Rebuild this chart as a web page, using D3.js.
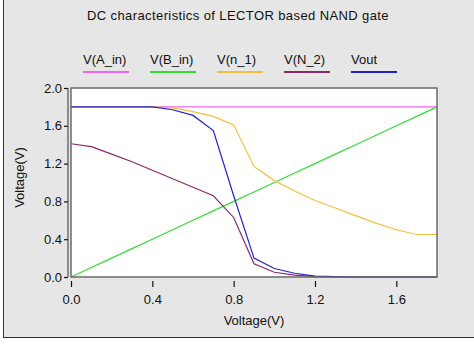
<!DOCTYPE html>
<html>
<head>
<meta charset="utf-8">
<script src="https://cdn.jsdelivr.net/npm/d3@7"></script>
<style>
  body { margin: 0; background: #fff; }
  text { font-family: "Liberation Sans", Arial, sans-serif; fill: #111; }
</style>
</head>
<body>
<div id="container"></div>
<script>
/* DATA */
const sweep = [0, 0.1, 0.2, 0.3, 0.4, 0.5, 0.6, 0.7, 0.8, 0.9, 1.0, 1.1, 1.2, 1.3, 1.4, 1.5, 1.6, 1.7, 1.8];
const vAin = [1.8, 1.8, 1.8, 1.8, 1.8, 1.8, 1.8, 1.8, 1.8, 1.8, 1.8, 1.8, 1.8, 1.8, 1.8, 1.8, 1.8, 1.8, 1.8];
const vBin = [0, 0.1, 0.2, 0.3, 0.4, 0.5, 0.6, 0.7, 0.8, 0.9, 1.0, 1.1, 1.2, 1.3, 1.4, 1.5, 1.6, 1.7, 1.8];
const vN1 = [1.8, 1.8, 1.8, 1.8, 1.8, 1.79, 1.75, 1.7, 1.61, 1.17, 1.02, 0.91, 0.81, 0.73, 0.65, 0.57, 0.5, 0.45, 0.45];
const vN2 = [1.41, 1.38, 1.3, 1.22, 1.13, 1.04, 0.95, 0.86, 0.63, 0.14, 0.05, 0.02, 0.005, 0, 0, 0, 0, 0, 0];
const vOut = [1.8, 1.8, 1.8, 1.8, 1.8, 1.77, 1.71, 1.55, 0.86, 0.2, 0.09, 0.04, 0.01, 0.004, 0, 0, 0, 0, 0];
const seriesNames = ["V(A_in)", "V(B_in)", "V(n_1)", "V(N_2)", "Vout"];
const xTicks = [0, 0.4, 0.8, 1.2, 1.6];
const yTicks = [0, 0.4, 0.8, 1.2, 1.6, 2.0];

const colors = ["#ee66ee", "#33dd33", "#f2c040", "#8a2a6e", "#2222cc"];
const series = [vAin, vBin, vN1, vN2, vOut];

const width = 474, height = 362;
const plot = { left: 71, right: 437, top: 88, bottom: 277 };

const svg = d3.select("#container").append("svg")
  .attr("width", width)
  .attr("height", height);

// gray panel
svg.append("rect")
  .attr("x", 3.5).attr("y", -2)
  .attr("width", width).attr("height", 339.5)
  .attr("fill", "#e6e6e6")
  .attr("stroke", "#333")
  .attr("stroke-width", 1);

// title
svg.append("text")
  .attr("x", 238).attr("y", 20)
  .attr("text-anchor", "middle")
  .attr("font-size", 13)
  .attr("letter-spacing", 0.4)
  .text("DC characteristics of LECTOR based NAND gate");

// legend
const legend = svg.append("g").attr("transform", "translate(83,0)");
seriesNames.forEach((name, i) => {
  const g = legend.append("g").attr("transform", `translate(${i * 67},0)`);
  g.append("text").attr("x", 0).attr("y", 64).attr("font-size", 13).text(name);
  g.append("line")
    .attr("x1", 0).attr("x2", 46)
    .attr("y1", 72).attr("y2", 72)
    .attr("stroke", colors[i]).attr("stroke-width", 2);
});

// scales
const xScale = d3.scaleLinear().domain([0, 1.8]).range([plot.left, plot.right]);
const yScale = d3.scaleLinear().domain([0, 2.0]).range([plot.bottom, plot.top]);

// plot background
svg.append("rect")
  .attr("x", plot.left).attr("y", plot.top)
  .attr("width", plot.right - plot.left).attr("height", plot.bottom - plot.top)
  .attr("fill", "#fff");

// lines
const lineGen = d3.line()
  .x((d, i) => xScale(sweep[i]))
  .y(d => yScale(d));

svg.selectAll(".line")
  .data(series)
  .join("path")
  .attr("class", "line")
  .attr("fill", "none")
  .attr("stroke", (d, i) => colors[i])
  .attr("stroke-width", 1.2)
  .attr("d", d => lineGen(d));

// plot frame
svg.append("rect")
  .attr("x", plot.left).attr("y", plot.top)
  .attr("width", plot.right - plot.left).attr("height", plot.bottom - plot.top)
  .attr("fill", "none")
  .attr("stroke", "#6a6a6a")
  .attr("stroke-width", 1.5);

// axes
const xAxis = d3.axisBottom(xScale).tickValues(xTicks).tickFormat(d3.format(".1f")).tickSize(6).tickPadding(8);
const yAxis = d3.axisLeft(yScale).tickValues(yTicks).tickFormat(d3.format(".1f")).tickSize(4).tickPadding(2);

const xAxisGroup = svg.append("g")
  .attr("transform", `translate(0,${plot.bottom + 4})`)
  .call(xAxis);
const yAxisGroup = svg.append("g")
  .attr("transform", `translate(${plot.left - 3},0)`)
  .call(yAxis);

[xAxisGroup, yAxisGroup].forEach(g => {
  g.select(".domain").remove();
  g.selectAll(".tick line").attr("stroke", "#111").attr("stroke-width", 1.2);
  g.selectAll(".tick text")
    .attr("font-family", "Liberation Sans, Arial, sans-serif")
    .attr("font-size", 13)
    .attr("fill", "#111");
});
yAxisGroup.append("line")
  .attr("x1", 0).attr("x2", 0)
  .attr("y1", plot.top).attr("y2", plot.bottom)
  .attr("stroke", "#333");

// axis titles
svg.append("text")
  .attr("x", xScale(0.9)).attr("y", 325)
  .attr("text-anchor", "middle")
  .attr("font-size", 13)
  .text("Voltage(V)");

svg.append("text")
  .attr("transform", `translate(24,${(plot.top + plot.bottom) / 2 - 5}) rotate(-90)`)
  .attr("text-anchor", "middle")
  .attr("font-size", 13)
  .text("Voltage(V)");
</script>
</body>
</html>
